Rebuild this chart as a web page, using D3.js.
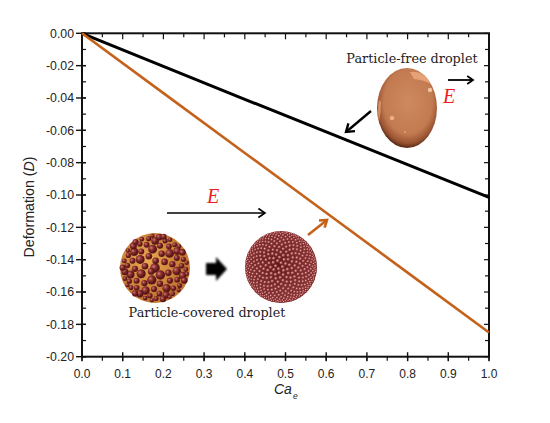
<!DOCTYPE html>
<html>
<head>
<meta charset="utf-8">
<script src="https://cdn.jsdelivr.net/npm/d3@7"></script>
<style>
  body { margin: 0; background: #fff; }
  svg text { font-family: "Liberation Sans", Arial, sans-serif; }
  .serif { font-family: "DejaVu Serif", "Liberation Serif", serif; }
  .times { font-family: "Liberation Serif", serif; }
</style>
</head>
<body>
<div id="chart"></div>
<script>
// ---------------  DATA  ---------------
const caValues = [0, 0.2, 0.4, 0.6, 0.8, 1.0];
const freeDroplet = [0, -0.0205, -0.0408, -0.061, -0.0812, -0.1015];
const coveredDroplet = [0, -0.037, -0.074, -0.111, -0.148, -0.185];
const xTicks = [0, 0.1, 0.2, 0.3, 0.4, 0.5, 0.6, 0.7, 0.8, 0.9, 1.0];
const yTicks = [0, -0.02, -0.04, -0.06, -0.08, -0.10, -0.12, -0.14, -0.16, -0.18, -0.20];

// ---------------  INITIALIZATION  ---------------
const width = 550, height = 423;
const margin = {top: 33.3, right: 61, bottom: 66.3, left: 82};

const svg = d3.select("#chart").append("svg")
  .attr("width", width).attr("height", height);

const x = d3.scaleLinear().domain([0, 1]).range([margin.left, width - margin.right]);
const y = d3.scaleLinear().domain([0, -0.2]).range([margin.top, height - margin.bottom]);

const defs = svg.append("defs");

// ---------------  AXES  ---------------
const fmtY = d => (d === 0 ? "0.00" : d.toFixed(2));
const fmtX = d => d.toFixed(1);
const minorX = d3.range(0, 1.0001, 0.05);
const minorY = d3.range(0, -0.2001, -0.01);

// bottom: major ticks cross the axis, minor ticks outward
const gx = svg.append("g").attr("transform", `translate(0,${y(-0.2)})`);
gx.selectAll(".minor").data(minorX).enter().append("line")
  .attr("x1", d => x(d)).attr("x2", d => x(d)).attr("y1", 0).attr("y2", 4)
  .attr("stroke", "#111").attr("stroke-width", 1.2);
gx.selectAll(".major").data(xTicks).enter().append("line")
  .attr("x1", d => x(d)).attr("x2", d => x(d)).attr("y1", -4.5).attr("y2", 4.5)
  .attr("stroke", "#111").attr("stroke-width", 1.4);
gx.selectAll("text").data(xTicks).enter().append("text")
  .attr("x", d => x(d)).attr("y", 21.8)
  .attr("text-anchor", "middle").attr("font-size", 12).attr("fill", "#222")
  .text(fmtX);

// left: major ticks cross the axis, minor ticks inward
const gy = svg.append("g").attr("transform", `translate(${x(0)},0)`);
gy.selectAll(".minor").data(minorY).enter().append("line")
  .attr("x1", 0).attr("x2", 4).attr("y1", d => y(d)).attr("y2", d => y(d))
  .attr("stroke", "#111").attr("stroke-width", 1.2);
gy.selectAll(".major").data(yTicks).enter().append("line")
  .attr("x1", -6).attr("x2", 4).attr("y1", d => y(d)).attr("y2", d => y(d))
  .attr("stroke", "#111").attr("stroke-width", 1.4);
gy.selectAll("text").data(yTicks).enter().append("text")
  .attr("x", -8).attr("y", d => y(d)).attr("dy", "0.36em")
  .attr("text-anchor", "end").attr("font-size", 12.3).attr("fill", "#222")
  .text(fmtY);

// top: ticks inward
svg.append("g").selectAll("line").data(minorX).enter().append("line")
  .attr("x1", d => x(d)).attr("x2", d => x(d))
  .attr("y1", y(0)).attr("y2", (d, i) => y(0) + (i % 2 === 0 ? 6 : 4))
  .attr("stroke", "#111").attr("stroke-width", 1.2);
// right: ticks inward
svg.append("g").selectAll("line").data(minorY).enter().append("line")
  .attr("x1", x(1)).attr("x2", (d, i) => x(1) - (i % 2 === 0 ? 5 : 4))
  .attr("y1", d => y(d)).attr("y2", d => y(d))
  .attr("stroke", "#111").attr("stroke-width", 1.2);

// frame
svg.append("rect")
  .attr("x", x(0)).attr("y", y(0))
  .attr("width", x(1) - x(0)).attr("height", y(-0.2) - y(0))
  .attr("fill", "none").attr("stroke", "#111").attr("stroke-width", 2);

// axis titles
const yTitle = svg.append("text")
  .attr("transform", `translate(34,207) rotate(-90)`)
  .attr("text-anchor", "middle").attr("font-size", 14.2).attr("fill", "#222");
yTitle.append("tspan").text("Deformation (");
yTitle.append("tspan").attr("font-style", "italic").text("D");
yTitle.append("tspan").text(")");

const xTitle = svg.append("text")
  .attr("x", 274).attr("y", 394)
  .attr("font-size", 14).attr("fill", "#222").attr("font-style", "italic");
xTitle.append("tspan").text("Ca");
xTitle.append("tspan").attr("font-size", 8.5).attr("dx", 1).attr("dy", 5).text("e");

// ---------------  LINES  ---------------
const line = d3.line().x(d => x(d[0])).y(d => y(d[1]));
svg.append("path")
  .datum(caValues.map((c, i) => [c, freeDroplet[i]]))
  .attr("d", line).attr("fill", "none")
  .attr("stroke", "#000").attr("stroke-width", 3);
svg.append("path")
  .datum(caValues.map((c, i) => [c, coveredDroplet[i]]))
  .attr("d", line).attr("fill", "none")
  .attr("stroke", "#c4621c").attr("stroke-width", 2.6);

// ---------------  ILLUSTRATIONS  ---------------
function arrow(g, x1, y1, x2, y2, color, w, head) {
  const a = Math.atan2(y2 - y1, x2 - x1);
  g.append("line").attr("x1", x1).attr("y1", y1).attr("x2", x2).attr("y2", y2)
    .attr("stroke", color).attr("stroke-width", w);
  const p1 = [x2 - head * Math.cos(a - 0.6), y2 - head * Math.sin(a - 0.6)];
  const p2 = [x2 - head * Math.cos(a + 0.6), y2 - head * Math.sin(a + 0.6)];
  g.append("polyline").attr("points", [p1, [x2, y2], p2].map(p => p.join(",")).join(" "))
    .attr("fill", "none").attr("stroke", color).attr("stroke-width", w)
    .attr("stroke-linejoin", "miter");
}

const ann = svg.append("g");

// particle-free droplet
const gFree = defs.append("radialGradient").attr("id", "freeGrad")
  .attr("cx", "52%").attr("cy", "42%").attr("r", "58%");
gFree.append("stop").attr("offset", "0%").attr("stop-color", "#cf8a60");
gFree.append("stop").attr("offset", "70%").attr("stop-color", "#c27a50");
gFree.append("stop").attr("offset", "90%").attr("stop-color", "#985230");
gFree.append("stop").attr("offset", "100%").attr("stop-color", "#552812");

ann.append("ellipse").attr("cx", 407).attr("cy", 108).attr("rx", 30).attr("ry", 40)
  .attr("fill", "url(#freeGrad)");
ann.append("path").attr("d", "M410,72 Q424,70 431,84 Q424,80 414,79 Z")
  .attr("fill", "#e9a67a").attr("opacity", 0.9);
ann.append("circle").attr("cx", 430).attr("cy", 90).attr("r", 2.2).attr("fill", "#f3c49e");
ann.append("circle").attr("cx", 392).attr("cy", 118).attr("r", 2.2).attr("fill", "#eeb088");
ann.append("circle").attr("cx", 405).attr("cy", 132).attr("r", 1).attr("fill", "#e0a07a");
ann.append("path").attr("d", "M379,100 Q377,110 379,122 Q381,112 381,102 Z")
  .attr("fill", "#e09c72").attr("opacity", 0.8);

ann.append("text").attr("class", "serif").attr("x", 412).attr("y", 63)
  .attr("text-anchor", "middle").attr("font-size", 12.8).attr("fill", "#222")
  .text("Particle-free droplet");
arrow(ann, 448, 80, 473, 80, "#000", 1.8, 7);
ann.append("text").attr("class", "times").attr("x", 443).attr("y", 103)
  .attr("font-size", 20).attr("font-style", "italic").attr("fill", "#ee1c1c").text("E");
arrow(ann, 371, 111, 346, 132, "#000", 2.4, 9);

// field arrow over the covered droplets
ann.append("text").attr("class", "times").attr("x", 213).attr("y", 203)
  .attr("text-anchor", "middle").attr("font-size", 20).attr("font-style", "italic")
  .attr("fill", "#ee1c1c").text("E");
arrow(ann, 167, 213, 265, 213, "#000", 1.6, 8);
arrow(ann, 308, 235, 327, 220, "#c4621c", 2.6, 8);

// particle-covered droplet (before)
const golden = Math.PI * (3 - Math.sqrt(5));
const c1 = {x: 155, y: 268, r: 35};
const gOr = defs.append("radialGradient").attr("id", "orGrad").attr("cx", "40%").attr("cy", "40%");
gOr.append("stop").attr("offset", "0%").attr("stop-color", "#eaa852");
gOr.append("stop").attr("offset", "100%").attr("stop-color", "#c47a32");
ann.append("circle").attr("cx", c1.x).attr("cy", c1.y).attr("r", c1.r).attr("fill", "url(#orGrad)");
const gBump = defs.append("radialGradient").attr("id", "bumpGrad").attr("cx", "35%").attr("cy", "35%");
gBump.append("stop").attr("offset", "0%").attr("stop-color", "#d47f85");
gBump.append("stop").attr("offset", "40%").attr("stop-color", "#9a3a38");
gBump.append("stop").attr("offset", "100%").attr("stop-color", "#5a1717");
const bumps = d3.range(80).map(i => {
  const z = 1 - i / 80;
  const rr = Math.sqrt(1 - z * z);
  const t = i * golden;
  return {x: c1.x + c1.r * 0.93 * rr * Math.cos(t), y: c1.y + c1.r * 0.93 * rr * Math.sin(t),
          s: (i % 3 === 0 ? 4.8 : 3.4) * (0.6 + 0.4 * z)};
});
ann.append("g").selectAll("circle").data(bumps).enter().append("circle")
  .attr("cx", d => d.x).attr("cy", d => d.y).attr("r", d => d.s)
  .attr("fill", "url(#bumpGrad)");

// block arrow
const blur = defs.append("filter").attr("id", "soft").attr("x", "-50%").attr("y", "-50%")
  .attr("width", "200%").attr("height", "200%");
blur.append("feGaussianBlur").attr("stdDeviation", 1.3);
ann.append("polygon")
  .attr("points", "206,263 216,263 216,257 227,269 216,281 216,275 206,275")
  .attr("fill", "#000").attr("filter", "url(#soft)");

// particle-covered droplet (after)
const c2 = {x: 281, y: 267, r: 36};
const gDark = defs.append("radialGradient").attr("id", "darkGrad").attr("cx", "45%").attr("cy", "45%");
gDark.append("stop").attr("offset", "0%").attr("stop-color", "#5e1a1a");
gDark.append("stop").attr("offset", "100%").attr("stop-color", "#8a3a3a");
ann.append("circle").attr("cx", c2.x).attr("cy", c2.y).attr("r", c2.r).attr("fill", "url(#darkGrad)");
const gDot = defs.append("radialGradient").attr("id", "dotGrad").attr("cx", "35%").attr("cy", "35%");
gDot.append("stop").attr("offset", "0%").attr("stop-color", "#f0b0b0");
gDot.append("stop").attr("offset", "60%").attr("stop-color", "#b25a5a");
gDot.append("stop").attr("offset", "100%").attr("stop-color", "#7a2c2c");
const dots = d3.range(400).map(i => {
  const z = 1 - (i + 0.5) / 400;
  const rr = Math.sqrt(1 - z * z);
  const t = i * golden;
  return {x: c2.x + c2.r * 0.97 * rr * Math.cos(t), y: c2.y + c2.r * 0.97 * rr * Math.sin(t),
          s: 1.95 * (0.55 + 0.45 * z)};
});
ann.append("g").selectAll("circle").data(dots).enter().append("circle")
  .attr("cx", d => d.x).attr("cy", d => d.y).attr("r", d => d.s)
  .attr("fill", "url(#dotGrad)");

ann.append("text").attr("class", "serif").attr("x", 207).attr("y", 317)
  .attr("text-anchor", "middle").attr("font-size", 12.8).attr("fill", "#222")
  .text("Particle-covered droplet");
</script>
</body>
</html>
